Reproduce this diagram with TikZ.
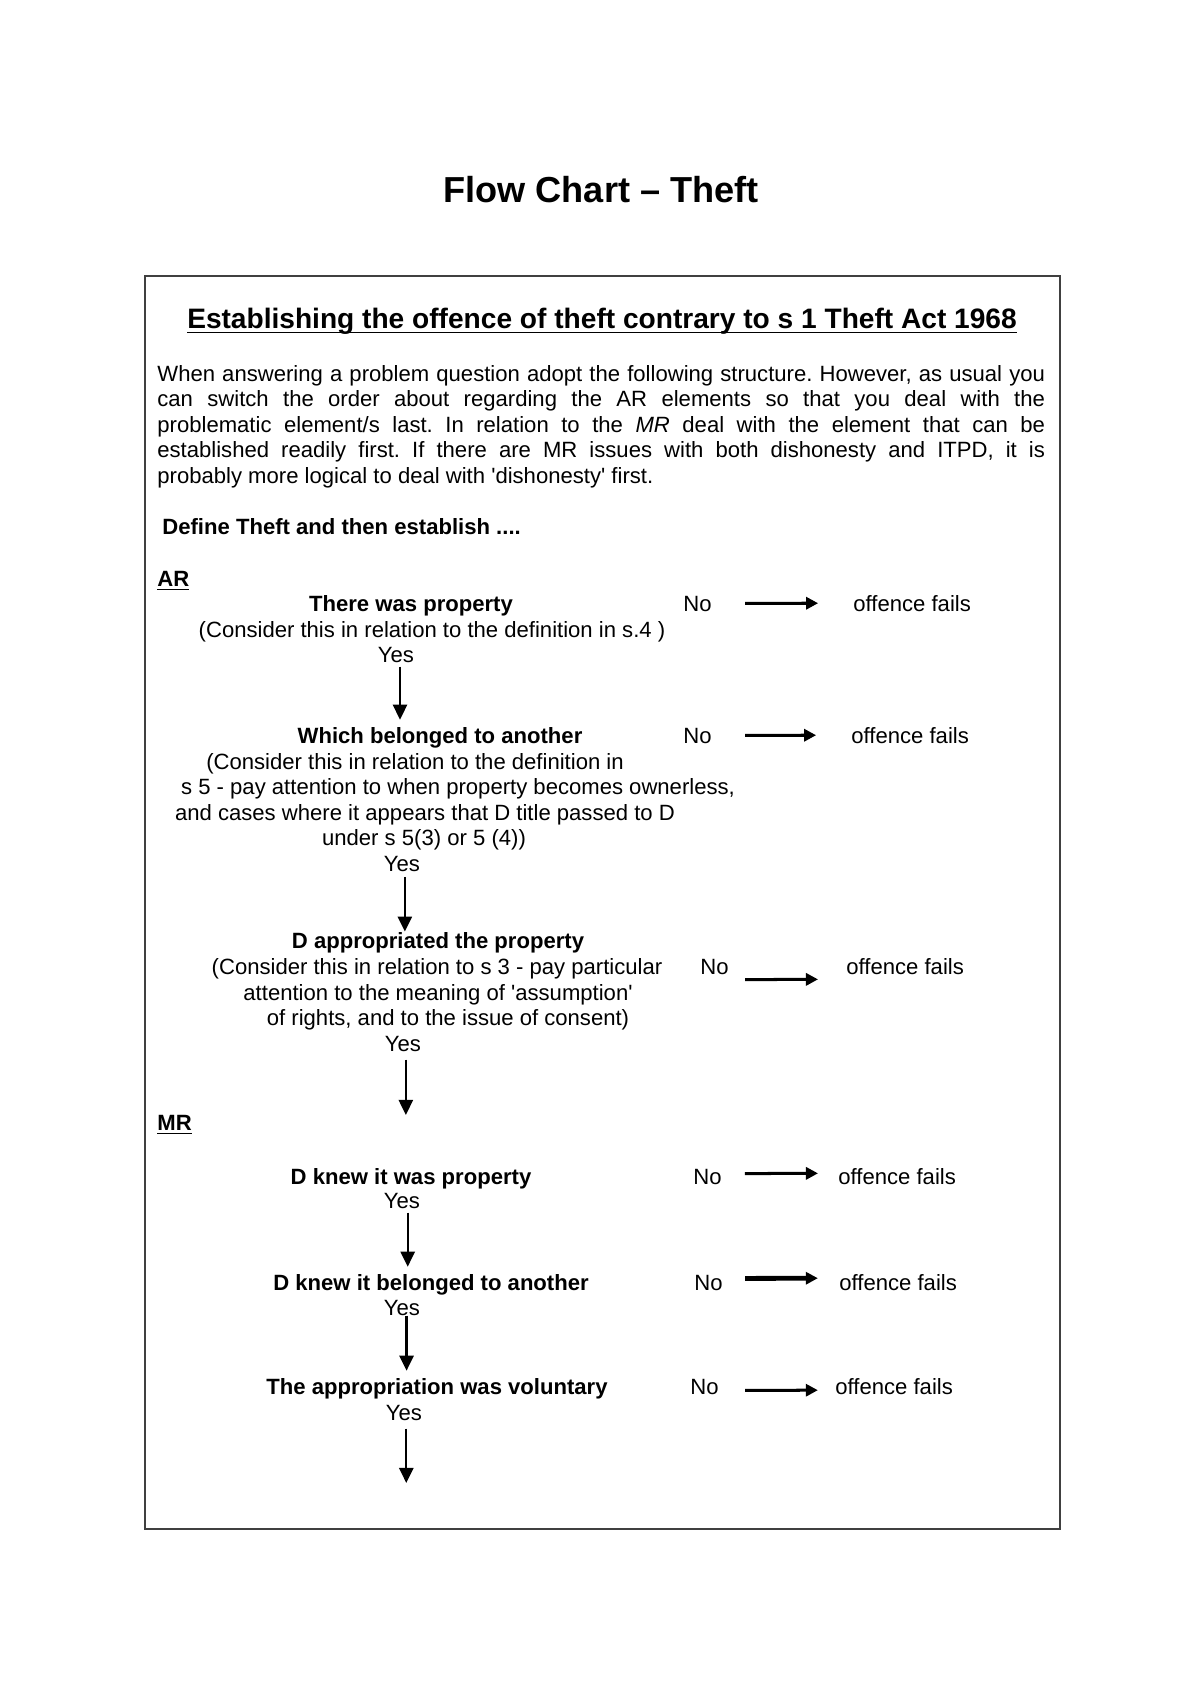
\documentclass[tikz,border=0pt]{standalone}
\usepackage{fontspec}
\setmainfont{Liberation Sans}
\frenchspacing
\newcommand{\undl}[1]{\setbox0\hbox{#1}\rlap{\rule[-2.2pt]{\wd0}{0.9pt}}\box0}
\usetikzlibrary{arrows.meta}
\tikzset{
  txt/.style={inner sep=0pt, anchor=base, font=\fontsize{11}{12.65}\selectfont},
  test/.style={txt, font=\fontsize{11}{12.65}\selectfont\bfseries},
  lefttxt/.style={txt, anchor=base west},
  noarr/.style={line width=1.5pt, -{Triangle[length=6pt,width=6pt]}},
  yesarr/.style={line width=1.2pt, -{Triangle[length=7.5pt,width=7pt]}, shorten <=0.07cm, shorten >=0.12cm}
}
\begin{document}
\begin{tikzpicture}[x=0.0175cm, y=-0.0175cm]
\useasboundingbox (0,0) rectangle (1200,1696);
\node[txt, font=\fontsize{18}{21}\selectfont\bfseries] (title) at (601,203) {Flow Chart -- Theft};
\draw[line width=0.6pt, black!75] (145,276) rectangle (1060,1529);
\node[txt, font=\fontsize{14}{17}\selectfont\bfseries] (heading) at (602,329) {\undl{Establishing the offence of theft contrary to s 1 Theft Act 1968}};
\node[txt, anchor=north west, text width=442pt, align=justify] (intro) at (157,365) {\noindent When answering a problem question adopt the following structure. However, as usual you\linebreak can switch the order about regarding the AR elements so that you deal with the\linebreak problematic element/s last. In relation to the \textit{MR} deal with the element that can be\linebreak established readily first. If there are MR issues with both dishonesty and ITPD, it is\linebreak probably more logical to deal with \textquotesingle dishonesty\textquotesingle{} first.};
\node[lefttxt, font=\fontsize{11}{12.65}\selectfont\bfseries] (define) at (162,534) {Define Theft and then establish ....};

% AR
\node[lefttxt, font=\fontsize{11}{12.65}\selectfont\bfseries] (ar) at (157,586) {\undl{AR}};
\node[test] (prop) at (411,611) {There was property};
\node[txt] (prop1) at (432,637) {(Consider this in relation to the definition in s.4 )};
\node[txt] (yesprop) at (396,662) {Yes};
\node[lefttxt] (noprop) at (683,611) {No};
\node[lefttxt] (failprop) at (853,611) {offence fails};

\node[test] (belong) at (440,743) {Which belonged to another};
\node[txt] (belong1) at (415,769) {(Consider this in relation to the definition in};
\node[txt] (belong2) at (458,794) {s 5 - pay attention to when property becomes ownerless,};
\node[txt] (belong3) at (425,820) {and cases where it appears that D title passed to D};
\node[txt] (belong4) at (424,845) {under s 5(3) or 5 (4))};
\node[txt] (yesbelong) at (402,871) {Yes};
\node[lefttxt] (nobelong) at (683,743) {No};
\node[lefttxt] (failbelong) at (851,743) {offence fails};

\node[test] (approp) at (438,948) {D appropriated the property};
\node[txt] (approp1) at (437,974) {(Consider this in relation to s 3 - pay particular};
\node[txt] (approp2) at (438,1000) {attention to the meaning of \textquotesingle assumption\textquotesingle};
\node[txt] (approp3) at (448,1025) {of rights, and to the issue of consent)};
\node[txt] (yesapprop) at (403,1051) {Yes};
\node[lefttxt] (noapprop) at (700,974) {No};
\node[lefttxt] (failapprop) at (846,974) {offence fails};
\coordinate (mrgap) at (405,1115);

% MR
\node[lefttxt, font=\fontsize{11}{12.65}\selectfont\bfseries] (mr) at (157,1130) {\undl{MR}};
\node[test] (knewprop) at (411,1184) {D knew it was property};
\node[txt] (yesknewprop) at (402,1208) {Yes};
\node[lefttxt] (noknewprop) at (693,1184) {No};
\node[lefttxt] (failknewprop) at (838,1184) {offence fails};

\node[test] (knewbelong) at (431,1290) {D knew it belonged to another};
\node[txt] (yesknewbelong) at (402,1315) {Yes};
\node[lefttxt] (noknewbelong) at (694,1290) {No};
\node[lefttxt] (failknewbelong) at (839,1290) {offence fails};

\node[test] (volunt) at (437,1394) {The appropriation was voluntary};
\node[txt] (yesvolunt) at (404,1420) {Yes};
\node[lefttxt] (novolunt) at (690,1394) {No};
\node[lefttxt] (failvolunt) at (835,1394) {offence fails};
\coordinate (bottom) at (406,1483);

% yes arrows
\draw[yesarr] ([xshift=0.07cm]yesprop.south) -- ([xshift=0.07cm]yesprop.south |- belong.north);
\draw[yesarr, shorten <=0.09cm, shorten >=0cm] ([xshift=0.05cm]yesbelong.south) -- ([xshift=0.05cm]yesbelong.south |- approp.north);
\draw[yesarr, shorten <=0.14cm, shorten >=0pt] ([xshift=0.05cm]yesapprop.south) -- ([xshift=0.05cm]yesapprop.south |- mrgap);
\draw[yesarr] ([xshift=0.1cm]yesknewprop.south) -- ([xshift=0.1cm]yesknewprop.south |- knewbelong.north);
\draw[yesarr, shorten <=0pt] ([xshift=0.08cm]yesknewbelong.south) -- ([xshift=0.08cm]yesknewbelong.south |- volunt.north);
\draw[yesarr, shorten <=0.14cm, shorten >=0pt] ([xshift=0.04cm]yesvolunt.south) -- ([xshift=0.04cm]yesvolunt.south |- bottom);

% no arrows
\draw[noarr, shorten <=0.58cm, shorten >=0.61cm] (noprop.east) -- (failprop.west);
\draw[noarr, shorten <=0.58cm, shorten >=0.61cm] (nobelong.east) -- (failbelong.west);
\draw[noarr, shorten <=0.28cm, shorten >=0.49cm] ([yshift=-0.23cm]noapprop.east) -- ([yshift=-0.23cm]failapprop.west);
\draw[noarr, shorten <=0.40cm, shorten >=0.35cm] ([yshift=0.05cm]noknewprop.east) -- ([yshift=0.05cm]failknewprop.west);
\draw[noarr, line width=2.4pt, shorten <=0.385cm, shorten >=0.37cm] ([yshift=0.07cm]noknewbelong.east) -- ([yshift=0.07cm]failknewbelong.west);
\draw[noarr, shorten <=0.455cm, shorten >=0.30cm] ([yshift=-0.07cm]novolunt.east) -- ([yshift=-0.07cm]failvolunt.west);
\end{tikzpicture}
\end{document}
